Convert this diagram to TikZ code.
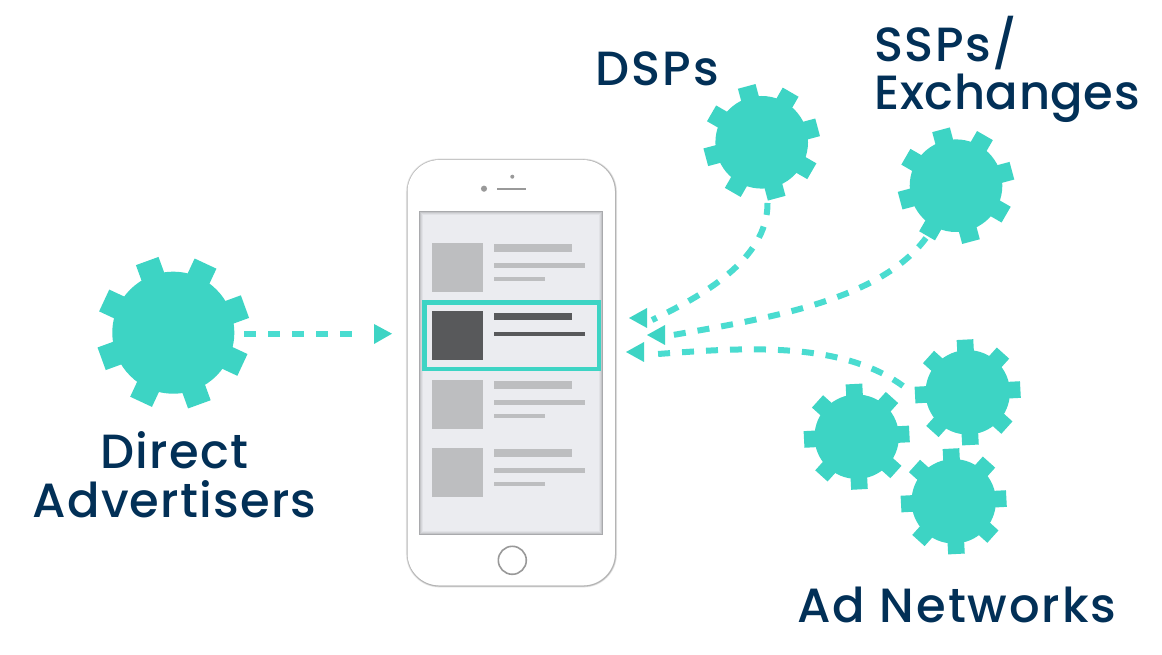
\documentclass[tikz,border=0pt]{standalone}
\usepackage{fontspec}
\setmainfont{Poppins Medium}
\usetikzlibrary{shapes.geometric}
\definecolor{gearteal}{HTML}{3DD4C4}
\definecolor{dashteal}{HTML}{4ADCD0}
\definecolor{navy}{HTML}{023057}
\definecolor{blockgray}{HTML}{BDBEC0}
\definecolor{blockdark}{HTML}{58595B}
\definecolor{screengray}{HTML}{EBECF0}
\definecolor{partgray}{HTML}{999999}
\tikzset{
  x=0.75pt,y=-0.75pt,
  hub/.style={circle,fill=gearteal,inner sep=0pt},
  flow/.style={draw=dashteal,line width=4.5pt,dash pattern=on 9pt off 9pt},
  tiphead/.style={fill=gearteal,draw=none},
  label/.style={text=navy,font=\fontsize{36}{36}\selectfont,inner sep=0pt},
  block/.style={fill=blockgray},
  darkblock/.style={fill=blockdark},
}
% caption text with its own letter spacing
\newcommand{\spaced}[2]{{\addfontfeatures{LetterSpace=#1}#2}}
% #1 name, #2 centre, #3 hub radius in px, #4 rotation of the first tooth
\newcommand{\cog}[4]{%
  \foreach \a in {0,45,...,315}{
    \fill[gearteal,shift={#2},rotate=\a+#4]
      (0,{-0.197*#3}) rectangle ({1.25*#3},{0.197*#3});
  }
  \node[hub,minimum size={#3*1.5pt}] (#1) at #2 {};
}
% #1 top of the listing row
\newcommand{\listing}[1]{%
  \fill[block] (432.3,#1) rectangle (483.3,#1+49);
  \fill[block] (494,#1+1.3) rectangle (572,#1+9);
  \fill[block] (494,#1+20.3) rectangle (585,#1+24.7);
  \fill[block] (494,#1+34) rectangle (545,#1+38.3);
}
\begin{document}
\begin{tikzpicture}
\useasboundingbox (0,0) rectangle (1162,655);
\fill[white] (0,0) rectangle (1162,655);

% phone body with a soft rim
\foreach \w/\o in {2.4/06,1.6/10,0.8/16}{
  \draw[black,opacity=0.\o,line width=\w pt,rounded corners=24pt]
    (407.5,160) rectangle (615.5,586);
}
\fill[white,rounded corners=24pt] (407.5,160) rectangle (614.8,585.3);
\fill[partgray] (512.3,176.7) circle (1.5pt);
\fill[partgray] (484,188.7) circle (2.3pt);
\fill[partgray] (497,187.7) rectangle (526,189.7);
\draw[partgray,line width=1.2pt] (512.3,560.3) circle (10.5pt);

% screen with an inner shade along its edge
\fill[screengray] (419,211) rectangle (603,535);
\foreach \i/\o in {0/28,1/16,2/09,3/04}{
  \draw[black,opacity=0.\o,line width=0.75pt]
    (419.5+\i,211.5+\i) rectangle (602.5-\i,534.5-\i);
}
\listing{243}
\listing{380}
\listing{448}
\fill[darkblock] (432.3,311) rectangle (483.3,360);
\fill[darkblock] (494,312.7) rectangle (572,320.3);
\fill[darkblock] (494,332) rectangle (585,336);
\draw[gearteal,line width=3.5pt] (424.3,302.6) rectangle (599,369);

% gears
\cog{direct}{(173.3,332.7)}{61}{20}
\cog{dsp}{(761.7,142.3)}{46.3}{15}
\cog{ssp}{(956,185.7)}{46.3}{15}
\cog{netA}{(967.7,392.3)}{42.2}{3}
\cog{netB}{(856.7,436.7)}{42.2}{3}
\cog{netC}{(953.7,501.3)}{42.2}{3}

% connector ends
\coordinate (directOut) at (244,333.7);
\coordinate (directIn) at (352,333.7);
\coordinate (dspOut) at (767.5,203);
\coordinate (dspIn) at (652,320);
\coordinate (sspOut) at (926,238);
\coordinate (sspIn) at (673,335);
\coordinate (netOut) at (903,386);
\coordinate (netIn) at (658,354);

\draw[flow] (directOut) -- (directIn);
\draw[flow] (dspOut) .. controls (768,260) and (700,297) .. (dspIn);
\draw[flow] (sspOut) .. controls (880,300) and (770,318) .. (sspIn);
\draw[flow] (netOut) .. controls (840,340) and (740,348) .. (netIn);

% arrow heads
\fill[tiphead] (392,333.7) -- (374,324) -- (374,344) -- cycle;
\fill[tiphead] (629,318) -- (647,308) -- (647,328) -- cycle;
\fill[tiphead] (647,335) -- (665,325) -- (665,345) -- cycle;
\fill[tiphead] (626,352) -- (644,342) -- (644,362) -- cycle;

% captions
\node[label,anchor=base] (capDirect) at (174.5,468) {\spaced{2.9}{Direct}};
\node[label,anchor=base] (capAdv) at (174.5,517) {\spaced{2.5}{Advertisers}};
\node[label,anchor=base] (capDsp) at (657,86) {\spaced{4.5}{DSPs}};
\node[label,anchor=base west] (capSsp) at (874,62) {\spaced{3}{SSPs/}};
\node[label,anchor=base west] (capExch) at (874,110) {\spaced{1.3}{Exchanges}};
\node[label,anchor=base] (capNet) at (957,622) {\spaced{4}{Ad Networks}};
\end{tikzpicture}
\end{document}
